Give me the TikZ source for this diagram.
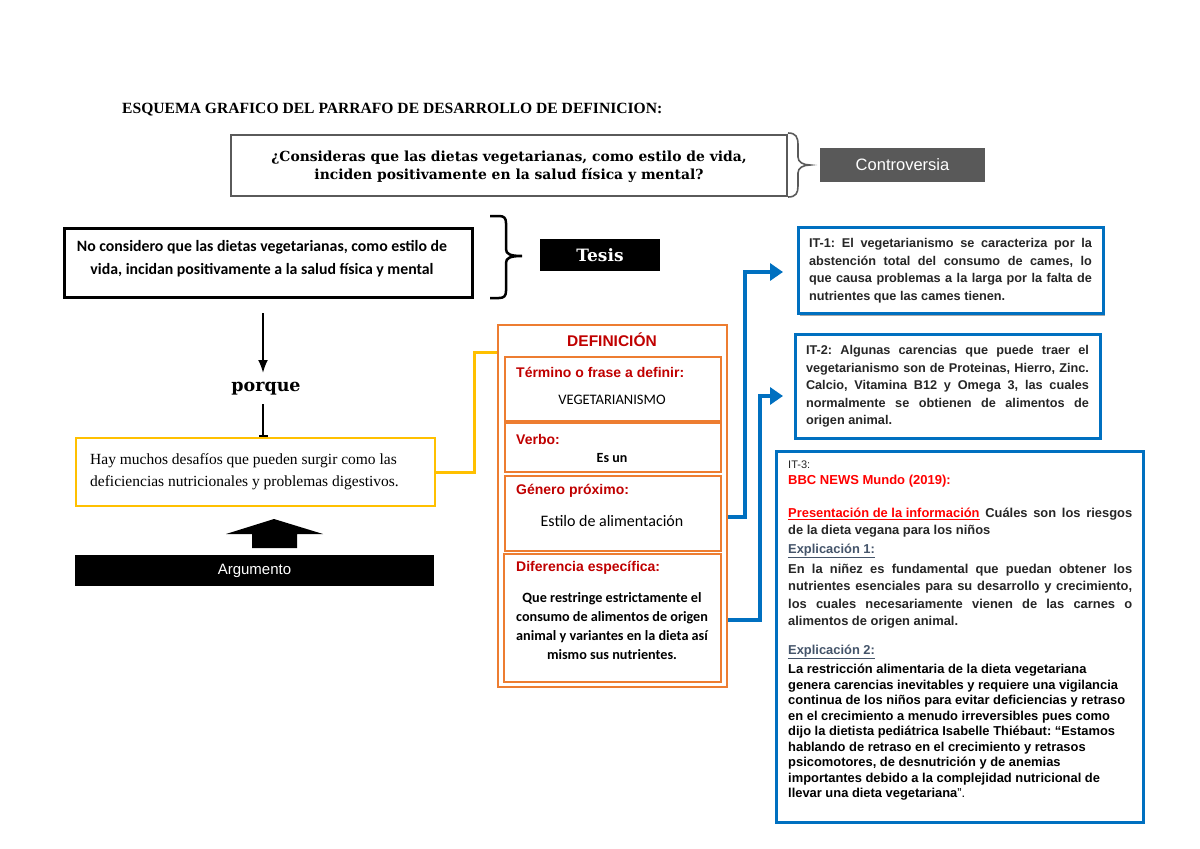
\documentclass[tikz,border=0pt]{standalone}
\usepackage{fontspec}
\setmainfont{Liberation Serif}
\newfontfamily\calib{Carlito}
\newfontfamily\arialf{Liberation Sans}
\newfontfamily\slab{DejaVu Serif}
\usetikzlibrary{arrows.meta,shadows}
\definecolor{qgray}{HTML}{5A5A5A}
\definecolor{cgray}{HTML}{595959}
\definecolor{gold}{HTML}{FFC000}
\definecolor{orng}{HTML}{ED7D31}
\definecolor{dred}{HTML}{C00000}
\definecolor{brred}{HTML}{FF0000}
\definecolor{itblue}{HTML}{0070C0}
\definecolor{ittext}{HTML}{262626}
\definecolor{expl}{HTML}{44546A}
\frenchspacing
\tikzset{
  shd/.style={drop shadow={shadow xshift=1.5pt, shadow yshift=-2pt, opacity=.35, fill=black}},
  blueline/.style={draw=itblue, line width=4pt, -{Triangle[length=13pt,width=17pt]}},
  itbox/.style={draw=itblue, line width=3pt, fill=white, shd},
  itfont/.style={font=\arialf\bfseries\fontsize{12.7}{17.5}\selectfont, text=ittext},
  defin/.style={draw=orng, line width=2pt},
  redlab/.style={anchor=west, inner sep=0, text=dred, font=\arialf\bfseries\fontsize{14}{16}\selectfont},
  defval/.style={inner sep=0, align=center, font=\calib\fontsize{14.5}{19}\selectfont},
  blackbar/.style={fill=black, text=white}
}
\begin{document}
\begin{tikzpicture}[x=1pt,y=-1pt]
\useasboundingbox (0,0) rectangle (1200,849);
\fill[white] (0,0) rectangle (1200,849);

% title
\node[anchor=west, inner sep=0, font=\bfseries\fontsize{15.6}{17}\selectfont] (title) at (122,110) {ESQUEMA GRAFICO DEL PARRAFO DE DESARROLLO DE DEFINICION:};

% question
\node[draw=qgray, line width=2pt, minimum width=556pt, minimum height=61pt] (q) at (509,165.5) {};
\node[inner sep=0, align=center, font=\slab\bfseries\fontsize{13.9}{18}\selectfont] (qt) at (509,167)
  {¿Consideras que las dietas vegetarianas, como estilo de vida,\\inciden positivamente en la salud física y mental?};
\draw[qgray, line width=1.6pt] (788,133) .. controls (796,133) and (798,137) .. (798,145) -- (798,157)
   .. controls (798,162) and (803,165) .. (810,165) .. controls (803,165) and (798,168) .. (798,173)
   -- (798,186) .. controls (798,193) and (796,197) .. (788,197);
\node[fill=cgray, text=white, minimum width=165pt, minimum height=34pt, font=\arialf\fontsize{16.5}{18}\selectfont] (contro) at (902.5,165) {Controversia};

% tesis
\node[draw=black, line width=3pt, fill=white, minimum width=408pt, minimum height=69pt, shd] (tstmt) at (268,262.5) {};
\node[inner sep=0, align=center, font=\calib\bfseries\fontsize{15.8}{23}\selectfont] (tstmtt) at (262,258.5)
  {No considero que las dietas vegetarianas, como estilo de\\vida, incidan positivamente a la salud física y mental};
\draw[black, line width=2.5pt] (490,216) -- (499,216) .. controls (504,216) and (506,218) .. (506,223) -- (506,249)
   .. controls (506,254) and (510,256) .. (522,256) .. controls (510,256) and (506,258) .. (506,263)
   -- (506,291) .. controls (506,296) and (504,298) .. (499,298) -- (490,298);
\node[blackbar, minimum width=120pt, minimum height=32pt, font=\slab\bfseries\fontsize{17}{20}\selectfont] (tesis) at (600,255) {Tesis};

% porque
\coordinate (d1) at (263,313);
\coordinate (d1e) at (263,373);
\draw[line width=2pt, -{Latex[length=13pt,width=10pt]}] (d1) -- (d1e);
\node[font=\slab\bfseries\fontsize{17.5}{20}\selectfont, inner sep=0] (porque) at (266,389) {porque};
\coordinate (d2) at (263,404);

% argument
\node[draw=gold, line width=2.5pt, minimum width=359pt, minimum height=68pt] (arg) at (255.5,472) {};
\draw[line width=1.6pt, -{Bar[width=9pt]}] (d2) -- (d2 |- arg.north);
\node[anchor=west, inner sep=0, align=left, font=\fontsize{15.5}{22}\selectfont] (argt) at (90,472)
  {Hay muchos desafíos que pueden surgir como las\\deficiencias nutricionales y problemas digestivos.};
\fill[black] (252,548) -- (252,534) -- (226,534) -- (274,519) -- (323,534) -- (297,534) -- (297,548) -- cycle;
\node[blackbar, minimum width=359pt, minimum height=31pt, font=\arialf\fontsize{15}{18}\selectfont] (argu) at (254.5,570.5) {Argumento};

% definition
\node[defin, minimum width=229pt, minimum height=362pt] (def) at (612.5,506) {};
\node[inner sep=0, text=dred, font=\arialf\bfseries\fontsize{15.5}{18}\selectfont] (deft) at (612,340) {DEFINICIÓN};
\node[defin, minimum width=216pt, minimum height=64pt] (b1) at (613,389) {};
\node[defin, minimum width=216pt, minimum height=49pt] (b2) at (613,447.5) {};
\node[defin, minimum width=216pt, minimum height=75pt] (b3) at (613,513.5) {};
\node[defin, minimum width=217pt, minimum height=128pt] (b4) at (612.5,618) {};
\node[redlab] (l1) at (516,372) {Término o frase a definir:};
\node[redlab] (l2) at (516,439) {Verbo:};
\node[redlab] (l3) at (516,491) {Género próximo:};
\node[redlab] (l4) at (516,568) {Diferencia específica:};
\node[defval] (v1) at (612,400) {VEGETARIANISMO};
\node[defval, font=\calib\bfseries\fontsize{14}{19}\selectfont] (v2) at (612,458) {Es un};
\node[defval, font=\calib\fontsize{16}{19}\selectfont] (v3) at (612,521) {Estilo de alimentación};
\node[defval, font=\calib\bfseries\fontsize{14.2}{19}\selectfont] (v4) at (612,626.5)
  {Que restringe estrictamente el\\consumo de alimentos de origen\\animal y variantes en la dieta así\\mismo sus nutrientes.};

% yellow connector
\coordinate (yj) at (474,352);
\draw[gold, line width=3pt] (arg.east) -| (yj) -- (yj -| def.west);

% IT boxes
\node[itbox, itfont, text width=283pt, align=justify, minimum width=305pt, minimum height=85pt, inner sep=11pt] (it1) at (950.5,270.5)
  {IT-1: El vegetarianismo se caracteriza por la\linebreak abstención total del consumo de cames, lo\linebreak que causa problemas a la larga por la falta de\linebreak nutrientes que las cames tienen.};
\node[itbox, itfont, text width=283pt, align=justify, minimum width=305pt, minimum height=103pt, inner sep=11pt] (it2) at (947.5,386.5)
  {IT-2: Algunas carencias que puede traer el\linebreak vegetarianismo son de Proteinas, Hierro, Zinc.\linebreak Calcio, Vitamina B12 y Omega 3, las cuales\linebreak normalmente se obtienen de alimentos de\linebreak origen animal.};

% blue connectors
\coordinate (k1) at (745,517);
\coordinate (k1t) at (783,272);
\coordinate (k2) at (760,620);
\coordinate (k2t) at (783,396);
\draw[blueline] (def.east |- k1) -- (k1) |- (k1t);
\draw[blueline] (def.east |- k2) -- (k2) |- (k2t);

% IT-3
\node[itbox, minimum width=367pt, minimum height=371pt] (it3) at (959.5,636.5) {};
\node[anchor=west, inner sep=0, text=ittext, font=\arialf\fontsize{11}{13}\selectfont] (it3a) at (788,465) {IT-3:};
\node[anchor=west, inner sep=0, text=brred, font=\arialf\bfseries\fontsize{13}{16}\selectfont] (it3b) at (788,481) {BBC NEWS Mundo (2019):};
\node[anchor=north west, inner sep=0, itfont, text width=344pt, align=justify, font=\arialf\bfseries\fontsize{12.9}{17}\selectfont] (it3c) at (788,508)
  {\textcolor{brred}{\underline{Presentación de la información}} Cuáles son los riesgos\linebreak de la dieta vegana para los niños};
\node[anchor=west, inner sep=0, text=expl, font=\arialf\bfseries\fontsize{12.9}{16}\selectfont] (it3d) at (788,551) {\underline{Explicación 1:}};
\node[anchor=north west, inner sep=0, itfont, text width=344pt, align=justify, font=\arialf\bfseries\fontsize{12.9}{17.4}\selectfont] (it3e) at (788,564)
  {En la niñez es fundamental que puedan obtener los\linebreak nutrientes esenciales para su desarrollo y crecimiento,\linebreak los cuales necesariamente vienen de las carnes o\linebreak alimentos de origen animal.};
\node[anchor=west, inner sep=0, text=expl, font=\arialf\bfseries\fontsize{12.9}{16}\selectfont] (it3f) at (788,652) {\underline{Explicación 2:}};
\node[anchor=north west, inner sep=0, align=left, text=black, font=\arialf\bfseries\fontsize{12.9}{15.5}\selectfont] (it3g) at (788,664)
  {La restricción alimentaria de la dieta vegetariana\\genera carencias inevitables y requiere una vigilancia\\continua de los niños para evitar deficiencias y retraso\\en el crecimiento a menudo irreversibles pues como\\dijo la dietista pediátrica Isabelle Thiébaut: “Estamos\\hablando de retraso en el crecimiento y retrasos\\psicomotores, de desnutrición y de anemias\\importantes debido a la complejidad nutricional de\\llevar una dieta vegetariana{\mdseries ”.}};
\end{tikzpicture}
\end{document}
